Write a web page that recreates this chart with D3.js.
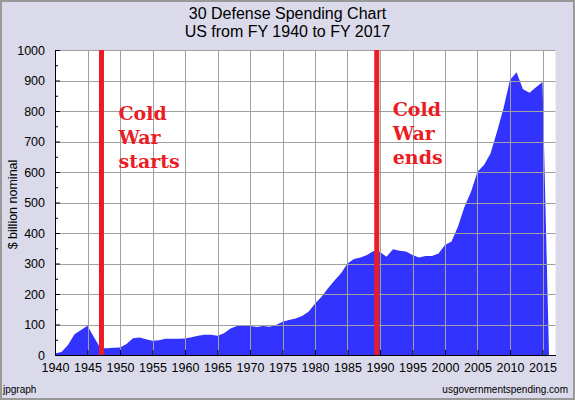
<!DOCTYPE html>
<html>
<head>
<meta charset="utf-8">
<script src="https://cdn.jsdelivr.net/npm/d3@7"></script>
<style>
	body { margin: 0; background: #fff; }
	text { font-family: "Liberation Sans", Arial, sans-serif; }
</style>
</head>
<body>
<div id="graph"></div>
<script>
var years = [];
for (var yr = 1940; yr <= 2017; yr++) years.push(yr);

var spending = [
	5, 10, 33, 68, 82, 96, 58, 22, 22, 24,
	25, 36, 55, 57, 52, 47, 48, 53, 53, 53,
	54, 58, 63, 66, 66, 63, 71, 87, 95, 96,
	95, 92, 95, 93, 98, 109, 115, 120, 128, 142,
	168, 191, 219, 244, 268, 300, 315, 320, 328, 341,
	338, 322, 347, 342, 339, 328, 320, 325, 325, 333,
	361, 372, 421, 486, 535, 601, 623, 661, 732, 809,
	902, 927, 871, 860, 878, 895, 0, 0
];

var xTicks = d3.range(1940, 2016, 5);
var yTicks = d3.range(0, 1001, 100);
var yMinor = d3.range(50, 1000, 100);

var eventYears = [1947.15, 1989.5];
var eventLabels = [["Cold", "War", "starts"], ["Cold", "War", "ends"]];

var titleLines = ["30 Defense Spending Chart", "US from FY 1940 to FY 2017"];

drawChart();

function drawChart() {
	var W = 575, H = 400;
	var pLeft = 55, pRight = 555.5, pTop = 50, pBottom = 355;

	var x = d3.scaleLinear().domain([1940, 2017]).range([pLeft, pRight]);
	var y = d3.scaleLinear().domain([0, 1000]).range([pBottom, pTop]);

	var data = years.map(function (d, i) { return { year: d, value: spending[i] }; });

	var svg = d3.select("#graph").append("svg")
		.attr("width", W)
		.attr("height", H);

	// frame
	svg.append("rect")
		.attr("x", 1).attr("y", 1)
		.attr("width", W - 2).attr("height", H - 2)
		.attr("fill", "#dadaea")
		.attr("stroke", "#999")
		.attr("stroke-width", 2);

	svg.append("rect")
		.attr("x", pLeft).attr("y", pTop)
		.attr("width", pRight - pLeft).attr("height", pBottom - pTop)
		.attr("fill", "#fff");

	// area
	var area = d3.area()
		.x(function (d) { return x(d.year); })
		.y0(y(0))
		.y1(function (d) { return y(d.value); });

	svg.append("path")
		.datum(data)
		.attr("d", area)
		.attr("fill", "#3333ff");

	// grid
	svg.append("g").selectAll("line")
		.data(yTicks.slice(1))
		.enter().append("line")
		.attr("x1", pLeft).attr("x2", pRight)
		.attr("y1", function (d) { return Math.round(y(d)) + 0.5; })
		.attr("y2", function (d) { return Math.round(y(d)) + 0.5; })
		.attr("stroke", "#a0a0a0");

	svg.append("g").selectAll("line")
		.data(xTicks.slice(1))
		.enter().append("line")
		.attr("y1", pTop).attr("y2", pBottom)
		.attr("x1", function (d) { return Math.round(x(d)) + 0.5; })
		.attr("x2", function (d) { return Math.round(x(d)) + 0.5; })
		.attr("stroke", "#a0a0a0");

	// cold war markers
	svg.append("g").selectAll("rect")
		.data(eventYears)
		.enter().append("rect")
		.attr("x", function (d) { return x(d) - 2.5; })
		.attr("y", pTop)
		.attr("width", 5)
		.attr("height", pBottom - pTop)
		.attr("fill", "#ec1c24");

	var labelOffset = [{ dx: 17, y: 120 }, { dx: 16, y: 116 }];
	eventYears.forEach(function (ev, i) {
		var t = svg.append("text")
			.attr("x", x(ev) + labelOffset[i].dx)
			.attr("y", labelOffset[i].y)
			.attr("fill", "#ec1c24")
			.style("font-family", "'DejaVu Serif', serif")
			.style("font-weight", "bold")
			.style("font-size", "19px");
		eventLabels[i].forEach(function (s, j) {
			t.append("tspan")
				.attr("x", x(ev) + labelOffset[i].dx)
				.attr("dy", j == 0 ? 0 : 24)
				.text(s);
		});
	});

	// axes
	svg.append("g")
		.attr("transform", "translate(" + pLeft + ",0)")
		.call(d3.axisLeft(y).tickValues(yTicks).tickFormat(d3.format("d")).tickSizeInner(-5).tickSizeOuter(0).tickPadding(10));
	svg.append("g")
		.attr("transform", "translate(" + pLeft + ",0)")
		.call(d3.axisLeft(y).tickValues(yMinor).tickSizeInner(-3).tickSizeOuter(0).tickFormat(""))
		.select(".domain").remove();

	svg.append("g")
		.attr("transform", "translate(0," + pBottom + ")")
		.call(d3.axisBottom(x).tickValues(xTicks).tickFormat(d3.format("d")).tickSizeInner(-5).tickSizeOuter(0).tickPadding(8));

	svg.selectAll(".tick text")
		.style("font-family", "'Liberation Sans', Arial, sans-serif")
		.style("font-size", "12.5px")
		.attr("fill", "#000");
	svg.selectAll(".domain, .tick line").attr("stroke", "#000");

	// titles
	svg.selectAll(".title")
		.data(titleLines)
		.enter().append("text")
		.attr("class", "title")
		.attr("x", W / 2)
		.attr("y", function (d, i) { return 19 + i * 17.7; })
		.attr("text-anchor", "middle")
		.style("font-size", "16px")
		.text(function (d) { return d; });

	svg.append("text")
		.attr("transform", "translate(17," + ((pTop + pBottom) / 2 + 2) + ") rotate(-90)")
		.attr("text-anchor", "middle")
		.style("font-size", "12.5px")
		.text("$ billion nominal");

	svg.append("text")
		.attr("x", 3).attr("y", 393)
		.style("font-size", "10px")
		.text("jpgraph");

	svg.append("text")
		.attr("x", 568).attr("y", 393)
		.attr("text-anchor", "end")
		.style("font-size", "10px")
		.text("usgovernmentspending.com");
}
</script>
</body>
</html>
